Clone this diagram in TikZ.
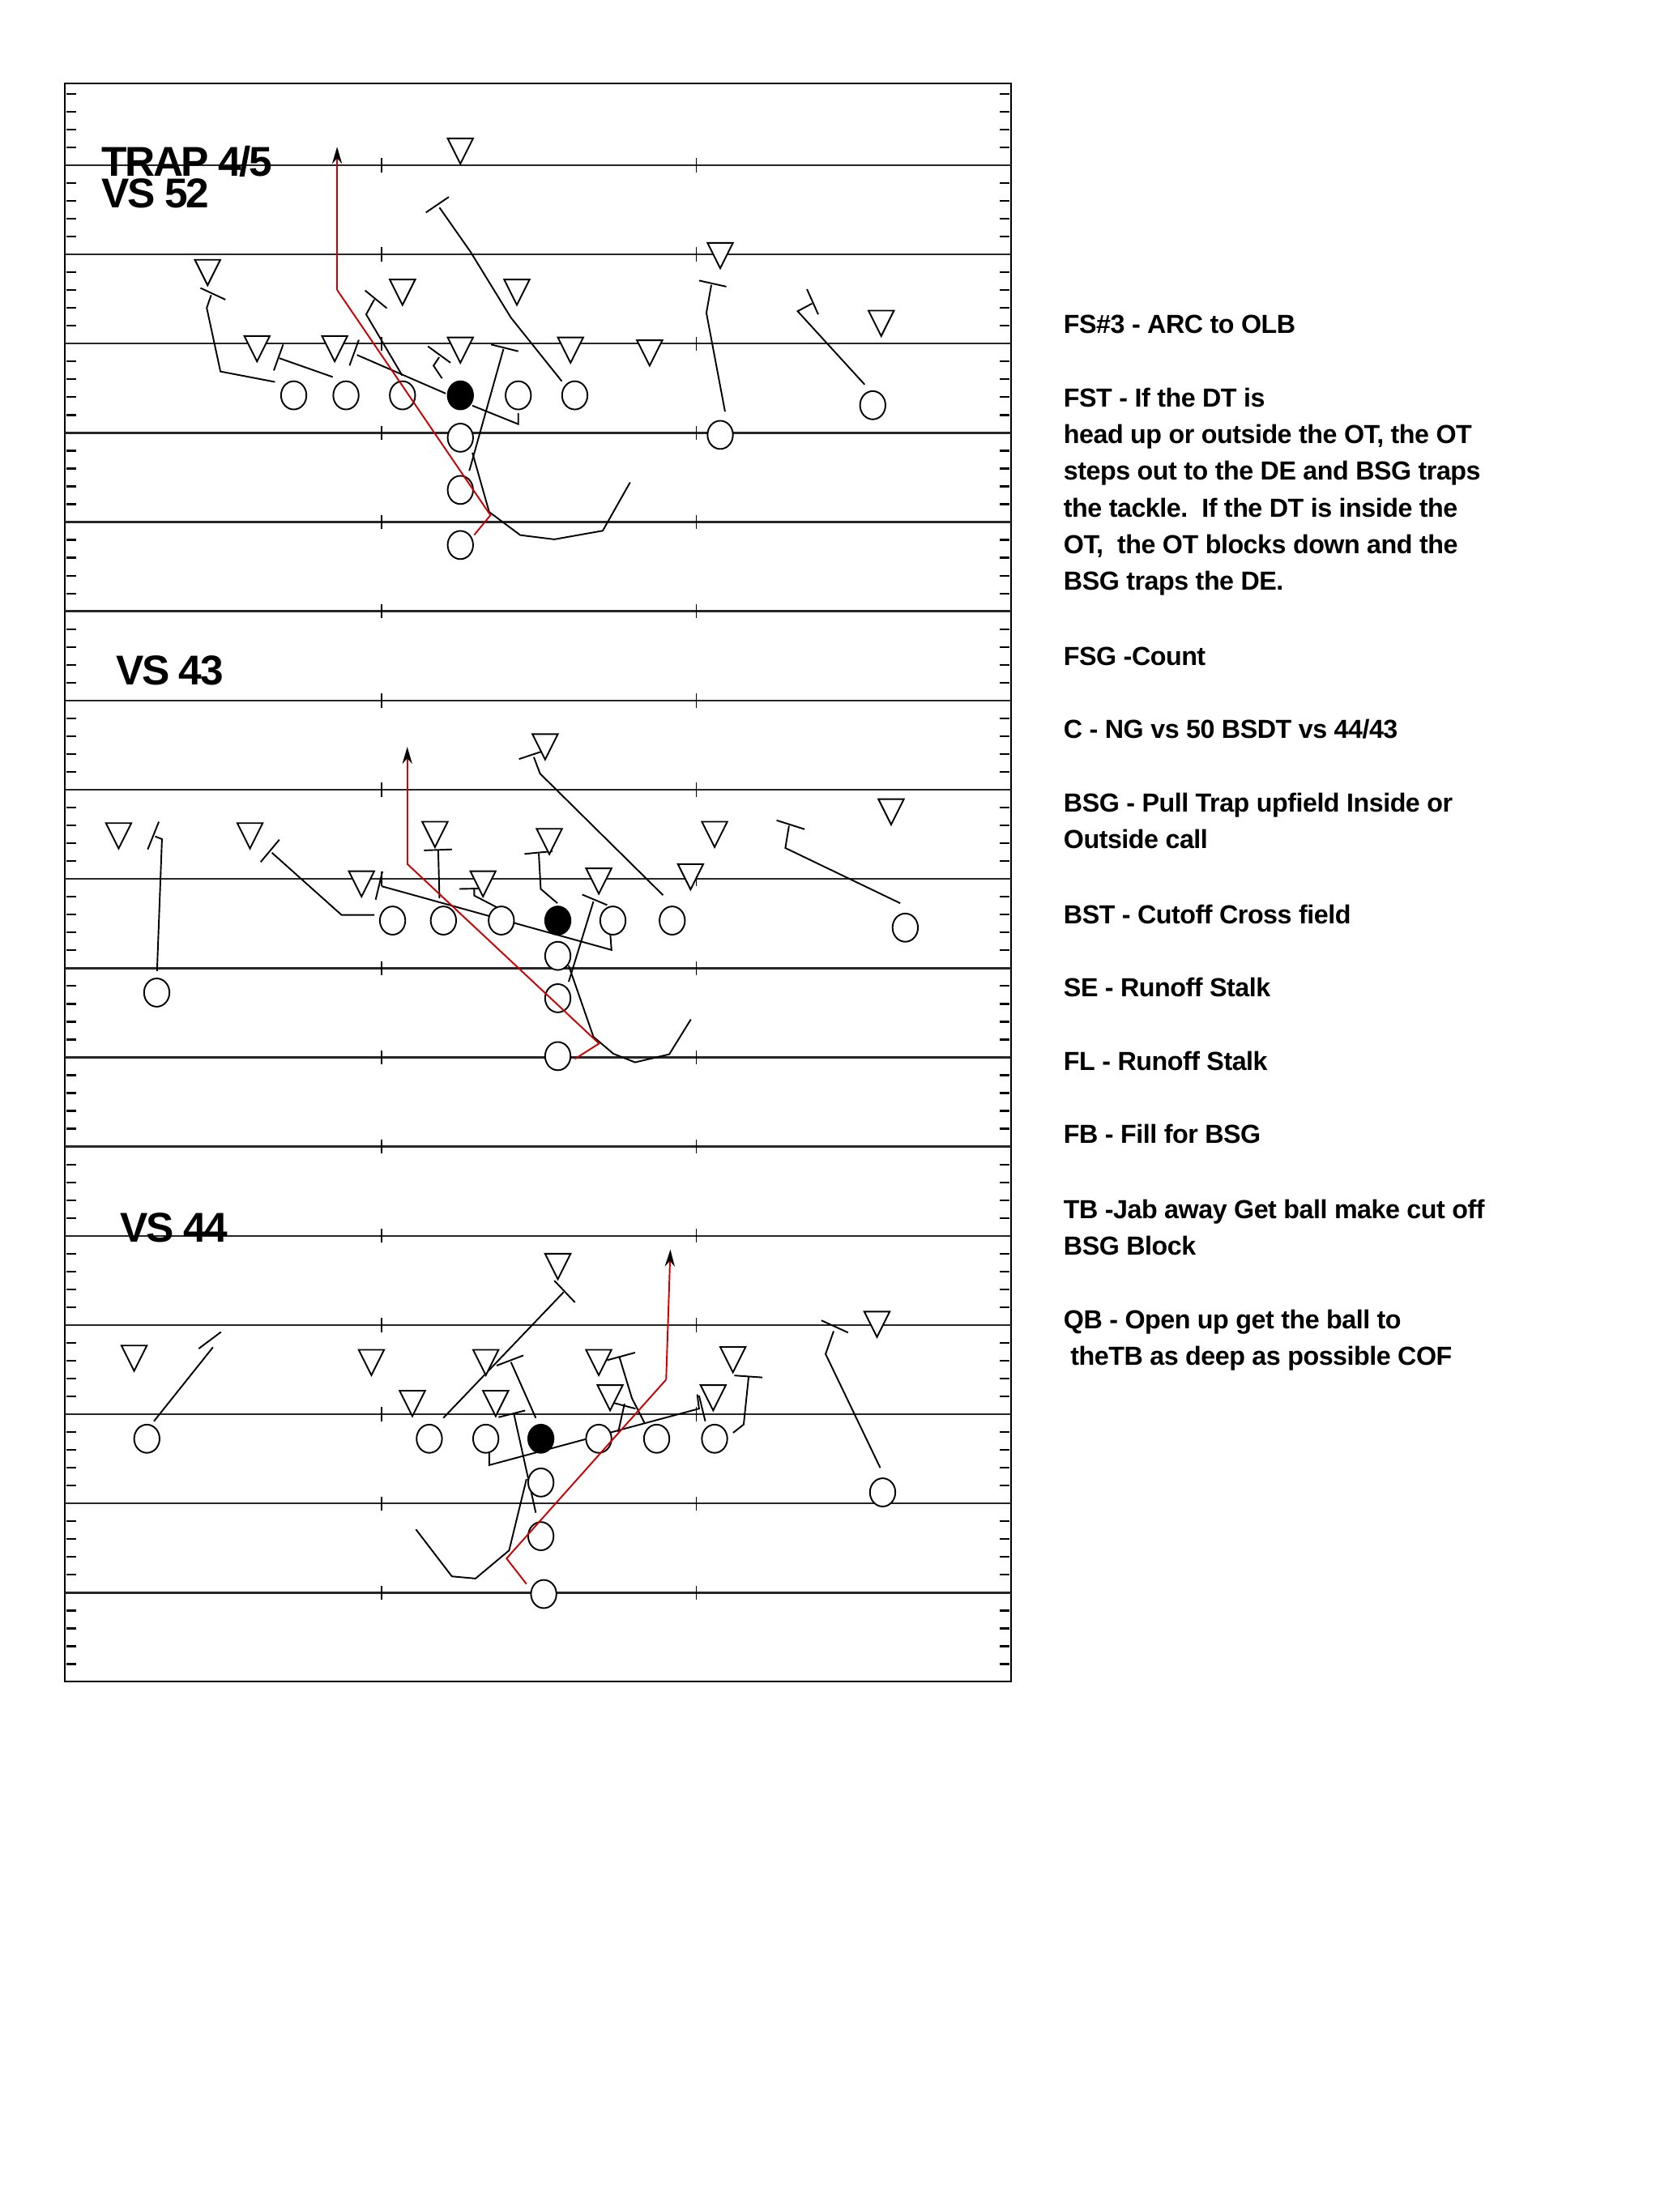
\documentclass[tikz,border=0pt]{standalone}
\usepackage{fontspec}
\setmainfont{Liberation Sans}
\newfontfamily\tightfont[LetterSpace=-1.5]{Liberation Sans}
\newfontfamily\titlefont[LetterSpace=-5]{Liberation Sans}
\usetikzlibrary{arrows.meta}
\begin{document}
\begin{tikzpicture}[x=1pt,y=-1pt,
  fieldline/.style={line width=1.4pt,black!85},
  play/.style={line width=1.1pt,black},
  run/.style={line width=1.1pt,red!80!black,-{Stealth[black,length=12pt,width=7pt]}},
  runn/.style={line width=1.1pt,red!80!black},
  off/.style={line width=1.1pt,draw=black,fill=white},
  defn/.style={line width=1.1pt,draw=black,fill=white},
  note/.style={anchor=base west,font=\tightfont\bfseries\fontsize{18.5}{20}\selectfont,inner sep=0pt},
  ttl/.style={anchor=base west,font=\titlefont\bfseries\fontsize{29.5}{28}\selectfont,inner sep=0pt}]
\newcommand{\dt}[2]{\draw[defn] (#1-9,#2-9)--(#1+9,#2-9)--(#1,#2+9)--cycle;}
\newcommand{\oc}[2]{\draw[off] (#1,#2) ellipse (9 and 10);}
\newcommand{\oq}[2]{\draw[line width=1.1pt,fill=black] (#1,#2) ellipse (9 and 10);}
\fill[white] (0,0) rectangle (1175,1566.7);
\useasboundingbox (0,0) rectangle (1175,1566.7);
% field
\draw[line width=1.2pt] (46,59) rectangle (716,1191);
\foreach \i in {0,...,16}{
  \pgfmathsetmacro\yy{117+63.19*\i}
  \draw[fieldline] (46,\yy)--(716,\yy);
  \draw[line width=1pt] (270,\yy-5)--(270,\yy+5) (493,\yy-5)--(493,\yy+5);
}
\foreach \i in {0,...,17}{
  \foreach \k in {1,...,4}{
    \pgfmathsetmacro\yy{117+63.19*(\i-1)+12.64*\k}
    \draw[line width=1.3pt] (47,\yy)--(54,\yy) (708,\yy)--(715,\yy);
  }
}
% titles
\node[ttl] at (72,125) {TRAP 4/5};
\node[ttl] at (72,147) {VS 52};
\node[ttl] at (82,485) {VS 43};
\node[ttl] at (85,880) {VS 44};
% ===== play 1
\draw[play] (194.7,270.5)--(156.1,263.1)--(146.4,218.1)--(149.5,209);
\draw[play] (142,204)--(159.6,212.2);
\draw[play] (235.6,267)--(197.8,253.7); \draw[play] (200.5,244)--(193.9,262.4);
\draw[play] (315.6,278.7)--(252.8,251.4); \draw[play] (254.1,240.7)--(247.5,258.9);
\draw[play] (284.8,265.9)--(259.3,222.7)--(265,212.2); \draw[play] (258.5,205.7)--(273.9,218.3);
\draw[play] (313,268)--(307,259)--(311,253); \draw[play] (303,245.3)--(319,256.9);
\draw[play] (332.3,333.5)--(356.5,247.2); \draw[play] (347.7,244)--(367,248.8);
\draw[play] (334.5,287.3)--(367,300.4)--(367,292.7);
\draw[play] (397.8,270)--(361.8,225)--(333.2,178.4)--(311.2,147); \draw[play] (301.6,150.5)--(317.8,139.5);
\draw[play] (513.4,291.5)--(500.2,221.6)--(503.7,201.8); \draw[play] (495,198.7)--(514.3,203);
\draw[play] (612.3,272.4)--(564.8,220.4)--(575,215); \draw[play] (571.4,204.8)--(579.4,222.7);
\draw[play] (334.5,320.6)--(346.4,362.6)--(368.4,379)--(392.5,382)--(426.8,375.9)--(446.2,341.6);
\foreach \x in {208,245,285,367,407}{\oc{\x}{280}}
\oq{326}{280}
\oc{510}{308}\oc{618}{287}\oc{326}{310}\oc{326}{347}\oc{326}{386}
\draw[runn] (335.8,378.9)--(347.3,364.9)--(238.7,205.3);
\draw[run] (238.7,205.3)--(238.7,104);
\dt{326}{107}\dt{147}{193}\dt{285}{207}\dt{366}{207}\dt{510}{181}\dt{624}{229}
\dt{182}{247}\dt{237}{247}\dt{326}{248}\dt{404}{248}\dt{460}{250}
% ===== play 2
\draw[play] (111.2,687.7)--(114.7,594.3)--(109.9,592.4); \draw[play] (112.5,582)--(104.6,601.6);
\draw[play] (265.1,648)--(241.8,648)--(192.5,603.9); \draw[play] (197.8,594.7)--(184.6,610.5);
\draw[play] (270.3,627.7)--(433,672.8)--(432.1,661); \draw[play] (270.8,617.2)--(266,637.2);
\draw[play] (311.2,636.2)--(310.3,602.3); \draw[play] (300.2,602.3)--(320,601.6);
\draw[play] (354.3,643.9)--(335.8,634.3)--(335.8,629.6); \draw[play] (325.3,629.6)--(344.2,629.2);
\draw[play] (394.7,639.7)--(382.9,629.6)--(381.5,604.4); \draw[play] (371.4,604.8)--(391.2,602.9);
\draw[play] (402.7,695.3)--(420.2,638.5); \draw[play] (412.3,633.6)--(429.9,641);
\draw[play] (469.5,634)--(382.4,547.9)--(378,536.2); \draw[play] (367.5,537.6)--(386,531.5);
\draw[play] (637.4,639.7)--(556.1,600.6)--(558.7,584.8); \draw[play] (549.9,581)--(569.7,587.3);
\draw[play] (402.7,683.9)--(420.2,734.3)--(434.3,746.3)--(449.7,752.4)--(473.9,746.7)--(489.2,722);
\foreach \x in {278,314,355,434,476}{\oc{\x}{652}}
\oq{395}{652}
\oc{641}{657}\oc{111}{703}\oc{395}{677}\oc{395}{707}\oc{395}{748}
\draw[runn] (407.1,750)--(424.2,739.1)--(288.4,611.9);
\draw[run] (288.4,611.9)--(288.4,529);
\dt{84}{592}\dt{177}{592}\dt{308}{591}\dt{389}{596}\dt{256}{626}\dt{342}{626}
\dt{424}{624}\dt{489}{621}\dt{506}{591}\dt{386}{529}\dt{631}{575}
% ===== play 3
\draw[play] (109,1006.6)--(150.8,954.2); \draw[play] (140.7,955.2)--(156.5,943.4);
\draw[play] (313.9,1004.3)--(399.1,915.2); \draw[play] (392.5,907)--(407.1,922.4);
\draw[play] (379.4,1004.3)--(361.8,964.7); \draw[play] (351.7,967.2)--(370.6,960);
\draw[play] (346.4,1026.6)--(346.4,1037.7)--(495,997.7)--(493.7,987.6); \draw[play] (495,988.5)--(499.4,1006.6);
\draw[play] (353,1003.8)--(371.9,999); \draw[play] (364,1001.9)--(379.4,1071.4);
\draw[play] (456.3,1007.6)--(447.5,990.4)--(438.7,961.5); \draw[play] (429.9,963.4)--(449.7,958);
\draw[play] (437.8,1014.2)--(442.2,994.2); \draw[play] (432.1,993)--(450,997.7);
\draw[play] (519.1,1014.8)--(526.6,1008.9)--(530.1,975.2); \draw[play] (520,974.2)--(539.8,975.6);
\draw[play] (623.3,1039.6)--(584.6,959)--(590.3,942.8); \draw[play] (581.6,935.2)--(600.5,943.8);
\draw[play] (372.8,1047.6)--(360.5,1098.1)--(336.7,1118)--(320,1116.5)--(294.5,1083.2);
\foreach \x in {104,304,344,424,465,506}{\oc{\x}{1019}}
\oq{383}{1019}
\oc{625}{1057}\oc{383}{1050}\oc{383}{1088}\oc{385}{1129}
\draw[runn] (372.8,1121.9)--(358.7,1103.8)--(471.7,977.1);
\draw[run] (471.7,977.1)--(474.7,885);
\dt{95}{962}\dt{263}{965}\dt{292}{994}\dt{344}{965}\dt{351}{994}\dt{424}{965}
\dt{432}{990}\dt{519}{963}\dt{505}{990}\dt{395}{897}\dt{621}{938}
% notes
\node[note] at (753,236) {FS\#3 - ARC to OLB};
\node[note] at (753,288) {FST - If the DT is};
\node[note] at (753,314) {head up or outside the OT, the OT};
\node[note] at (753,340) {steps out to the DE and BSG traps};
\node[note] at (753,366) {the tackle.\ \ If the DT is inside the};
\node[note] at (753,392) {OT,\ \ the OT blocks down and the};
\node[note] at (753,418) {BSG traps the DE.};
\node[note] at (753,471) {FSG -Count};
\node[note] at (753,523) {C - NG vs 50 BSDT vs 44/43};
\node[note] at (753,575) {BSG - Pull Trap upfield Inside or};
\node[note] at (753,601) {Outside call};
\node[note] at (753,654) {BST - Cutoff Cross field};
\node[note] at (753,706) {SE - Runoff Stalk};
\node[note] at (753,758) {FL - Runoff Stalk};
\node[note] at (753,810) {FB - Fill for BSG};
\node[note] at (753,863) {TB -Jab away Get ball make cut off};
\node[note] at (753,889) {BSG Block};
\node[note] at (753,941) {QB - Open up get the ball to};
\node[note] at (753,967) {\ theTB as deep as possible COF};
\end{tikzpicture}
\end{document}
